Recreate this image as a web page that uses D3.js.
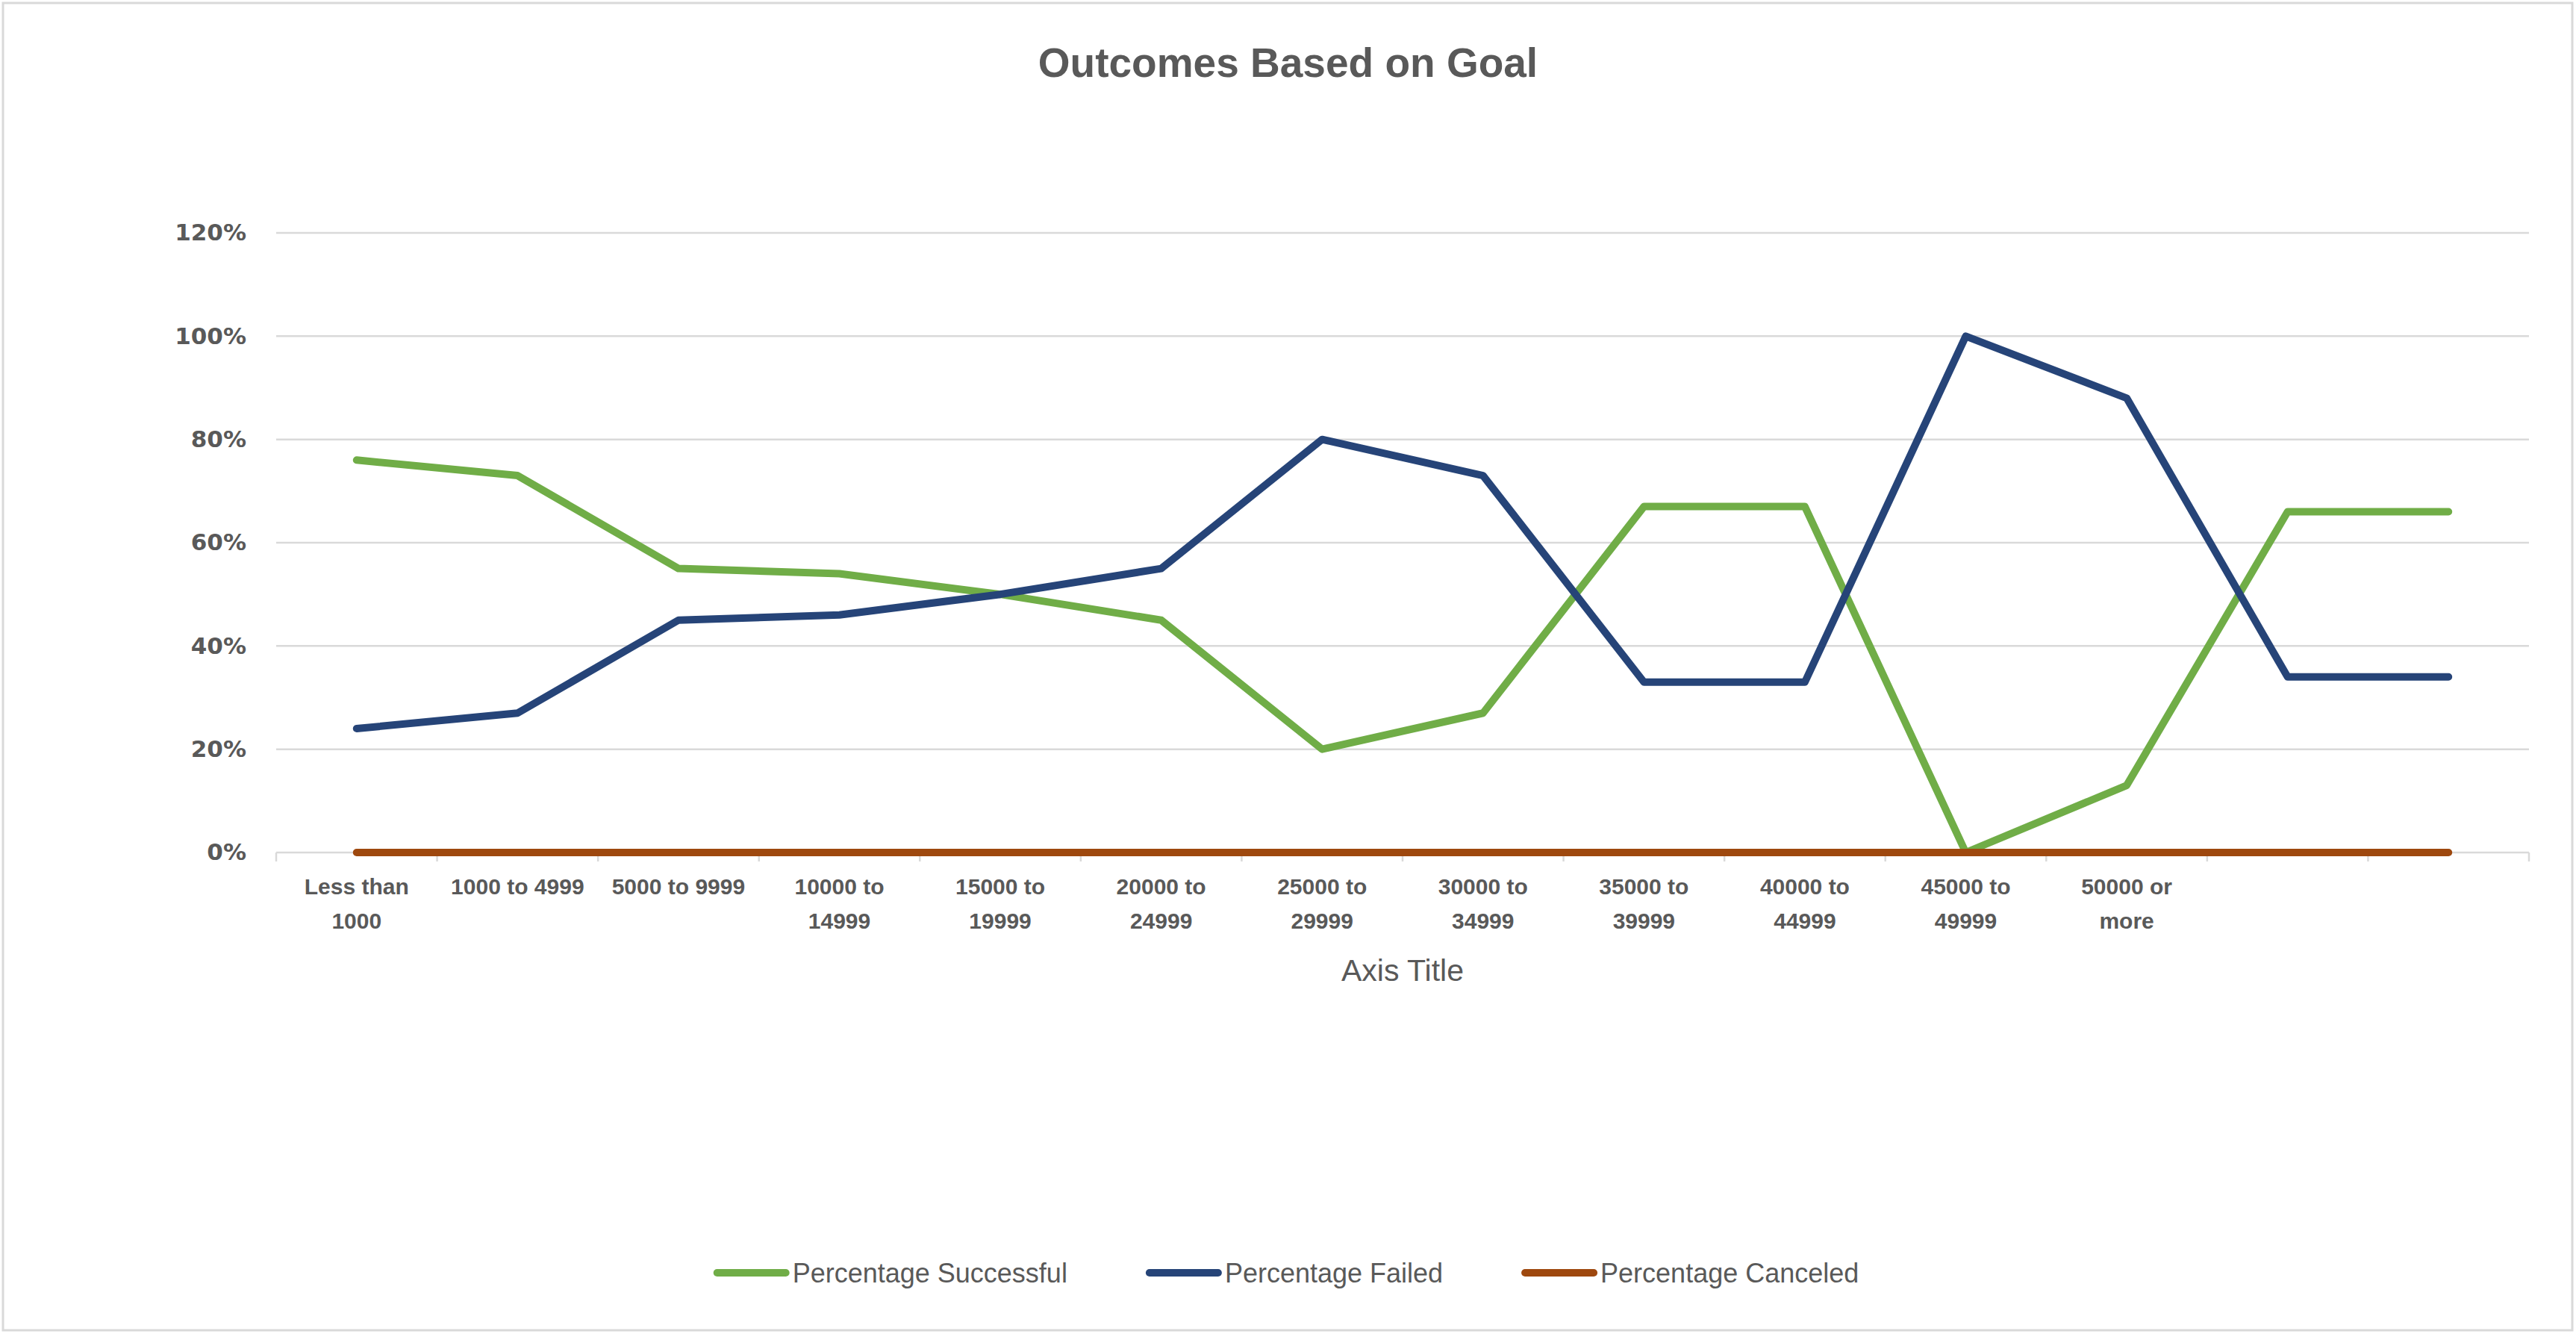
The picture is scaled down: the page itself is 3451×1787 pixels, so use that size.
<!DOCTYPE html>
<html>
<head>
<meta charset="utf-8">
<script src="https://cdn.jsdelivr.net/npm/d3@7"></script>
<style>
  html, body { margin: 0; padding: 0; background: #fff; }
  svg { display: block; }
</style>
</head>
<body>
<div id="chart"></div>
<script>
// Data
const categories = [
  "Less than 1000", "1000 to 4999", "5000 to 9999", "10000 to 14999",
  "15000 to 19999", "20000 to 24999", "25000 to 29999", "30000 to 34999",
  "35000 to 39999", "40000 to 44999", "45000 to 49999", "50000 or more",
  "", ""
];
const successful = [0.76, 0.73, 0.55, 0.54, 0.50, 0.45, 0.20, 0.27, 0.67, 0.67, 0.00, 0.13, 0.66, 0.66];
const failed     = [0.24, 0.27, 0.45, 0.46, 0.50, 0.55, 0.80, 0.73, 0.33, 0.33, 1.00, 0.88, 0.34, 0.34];
const canceled   = [0, 0, 0, 0, 0, 0, 0, 0, 0, 0, 0, 0, 0, 0];
const yTicks = [0, 0.2, 0.4, 0.6, 0.8, 1.0, 1.2];

const seriesNames = ["Percentage Successful", "Percentage Failed", "Percentage Canceled"];
const seriesColors = ["#70AD47", "#264478", "#9E480E"];
const seriesValues = [successful, failed, canceled];

const W = 3451, H = 1787;
const margin = { top: 312, right: 63, bottom: 645, left: 370 };
const width = W - margin.left - margin.right;
const height = H - margin.top - margin.bottom;

const textColor = "#595959";
const gridColor = "#D9D9D9";
const font = "'Liberation Sans', Arial, sans-serif";

const root = d3.select("#chart")
  .append("svg")
  .attr("width", W)
  .attr("height", H);

// Chart border
root.append("rect")
  .attr("x", 4)
  .attr("y", 4)
  .attr("width", W - 9)
  .attr("height", H - 9)
  .attr("fill", "#fff")
  .attr("stroke", gridColor)
  .attr("stroke-width", 3);

// Title
root.append("text")
  .attr("x", W / 2)
  .attr("y", 103)
  .attr("text-anchor", "middle")
  .style("font-family", font)
  .style("font-weight", "700")
  .style("font-size", "55px")
  .style("fill", textColor)
  .text("Outcomes Based on Goal");

const svg = root.append("g")
  .attr("transform", `translate(${margin.left},${margin.top})`);

// Scales
const x = d3.scaleBand()
  .domain(d3.range(categories.length))
  .range([0, width]);

const y = d3.scaleLinear()
  .domain([0, 1.2])
  .range([height, 0]);

// Gridlines
svg.append("g")
  .selectAll("line")
  .data(yTicks.filter(d => d > 0))
  .enter()
  .append("line")
  .attr("x1", 0)
  .attr("x2", width)
  .attr("y1", d => y(d))
  .attr("y2", d => y(d))
  .attr("stroke", gridColor)
  .attr("stroke-width", 2.5);

// Y axis labels
const yAxis = svg.append("g")
  .call(d3.axisLeft(y).tickValues(yTicks).tickFormat(d3.format(".0%")).tickSize(0).tickPadding(40));
yAxis.select(".domain").remove();
yAxis.selectAll("text")
  .style("font-family", "'DejaVu Sans', sans-serif")
  .style("font-weight", "700")
  .style("font-size", "31px")
  .style("fill", textColor);

// X axis line + ticks at band edges
const xAxis = svg.append("g")
  .attr("transform", `translate(0,${height})`);

xAxis.append("line")
  .attr("x1", 0)
  .attr("x2", width)
  .attr("stroke", gridColor)
  .attr("stroke-width", 2.5);

xAxis.selectAll(".tick-mark")
  .data(d3.range(categories.length + 1))
  .enter()
  .append("line")
  .attr("class", "tick-mark")
  .attr("x1", i => i * x.bandwidth())
  .attr("x2", i => i * x.bandwidth())
  .attr("y1", 0)
  .attr("y2", 12)
  .attr("stroke", gridColor)
  .attr("stroke-width", 2.5);

// X labels with wrapping
const labels = xAxis.selectAll(".xlabel")
  .data(categories)
  .enter()
  .append("text")
  .attr("class", "xlabel")
  .attr("x", (d, i) => x(i) + x.bandwidth() / 2)
  .attr("y", 56)
  .attr("text-anchor", "middle")
  .style("font-family", font)
  .style("font-weight", "700")
  .style("font-size", "30px")
  .style("fill", textColor);

labels.each(function(d) {
  const el = d3.select(this);
  const words = d.split(" ");
  const maxW = x.bandwidth() * 0.9;
  let line = [];
  let tspan = el.append("tspan").attr("x", el.attr("x")).attr("dy", 0);
  words.forEach(w => {
    line.push(w);
    tspan.text(line.join(" "));
    if (tspan.node().getComputedTextLength() > maxW && line.length > 1) {
      line.pop();
      tspan.text(line.join(" "));
      line = [w];
      tspan = el.append("tspan").attr("x", el.attr("x")).attr("dy", 46).text(w);
    }
  });
});

// Axis title
svg.append("text")
  .attr("x", width / 2)
  .attr("y", height + 172)
  .attr("text-anchor", "middle")
  .style("font-family", font)
  .style("font-size", "41px")
  .style("fill", textColor)
  .text("Axis Title");

// Lines
const line = d3.line()
  .x((d, i) => x(i) + x.bandwidth() / 2)
  .y(d => y(d));

svg.selectAll(".series")
  .data(seriesValues)
  .enter()
  .append("path")
  .attr("class", "series")
  .attr("d", d => line(d))
  .attr("fill", "none")
  .attr("stroke", (d, i) => seriesColors[i])
  .attr("stroke-width", 10)
  .attr("stroke-linejoin", "round")
  .attr("stroke-linecap", "round");

// Legend
const legend = root.append("g").attr("transform", `translate(0,1705)`);
const swatchW = 92, swatchGap = 9, itemGap = 110;
const items = legend.selectAll(".item")
  .data(seriesNames)
  .enter()
  .append("g")
  .attr("class", "item");

items.append("line")
  .attr("x1", 0)
  .attr("x2", swatchW)
  .attr("stroke", (d, i) => seriesColors[i])
  .attr("stroke-width", 10)
  .attr("stroke-linecap", "round");

items.append("text")
  .attr("x", swatchW + swatchGap)
  .attr("dy", "0.35em")
  .style("font-family", font)
  .style("font-size", "36px")
  .style("fill", textColor)
  .text(d => d);

const widths = [];
items.each(function() { widths.push(this.getBBox().width); });
const total = d3.sum(widths) + itemGap * (widths.length - 1);
let cx = (W - total) / 2;
items.attr("transform", (d, i) => {
  const t = `translate(${cx},0)`;
  cx += widths[i] + itemGap;
  return t;
});
</script>
</body>
</html>
